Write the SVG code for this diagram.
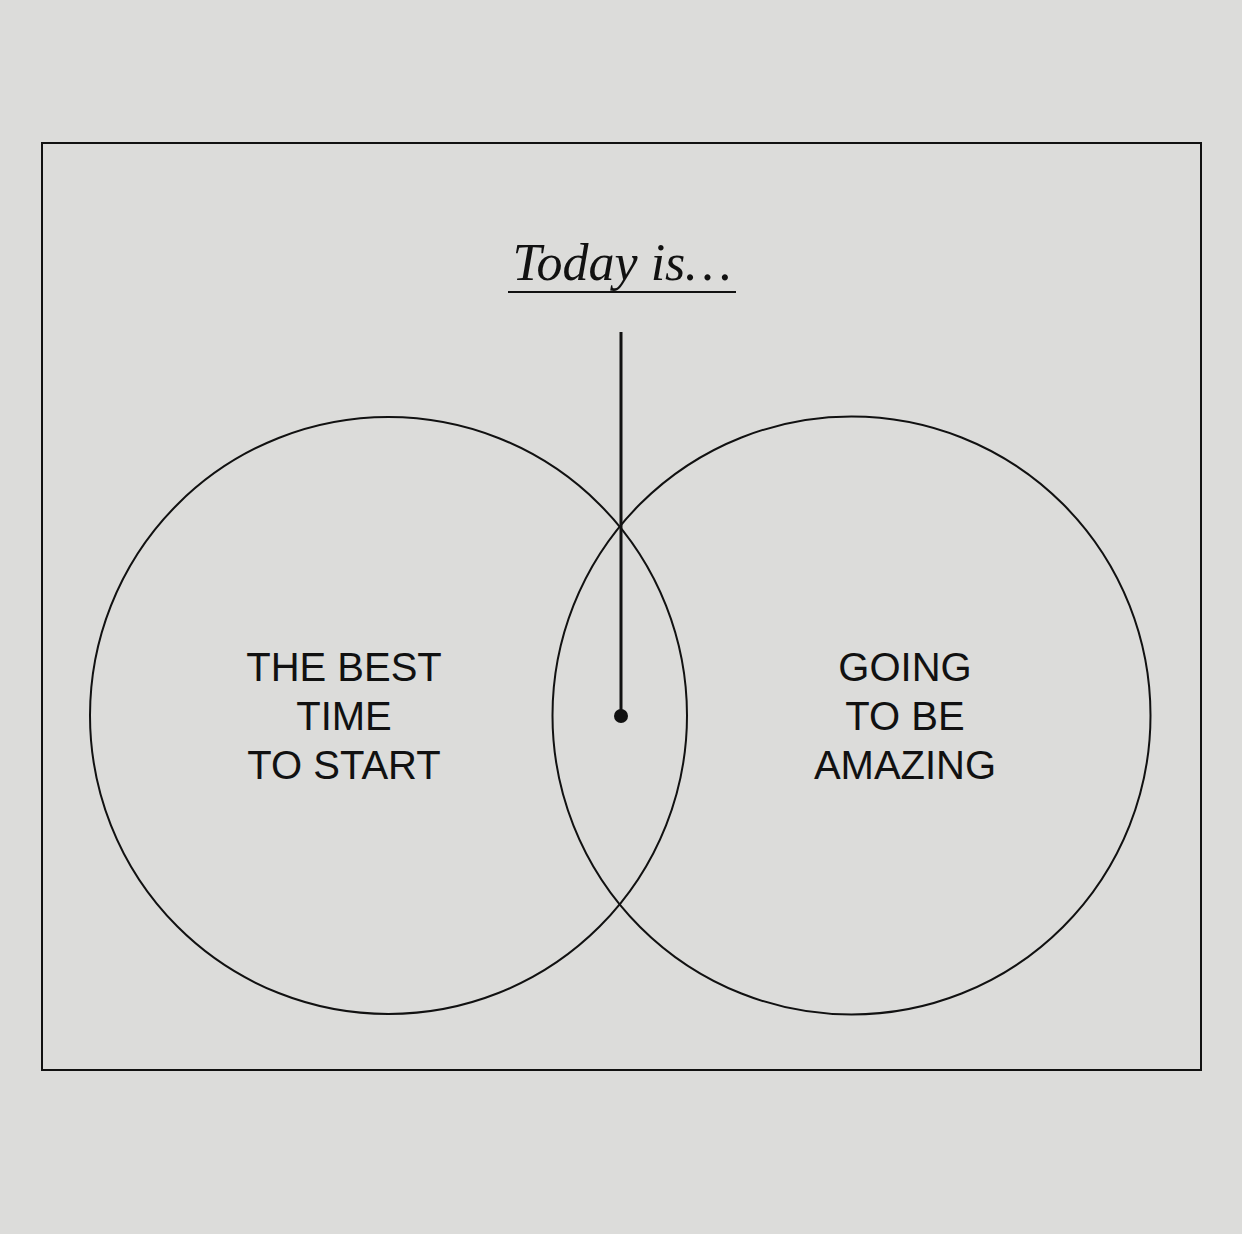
<svg xmlns="http://www.w3.org/2000/svg" width="1242" height="1234" viewBox="0 0 1242 1234">
<style>
.ln{fill:none;stroke:#111;stroke-width:2}
.lbl{font-family:"Liberation Sans",Arial,sans-serif;font-size:40px;fill:#111;text-anchor:middle}
.ttl{font-family:"Liberation Serif","Times New Roman",serif;font-style:italic;font-size:52px;fill:#111;text-anchor:middle}
</style>
<rect width="1242" height="1234" fill="#dcdcda"/>
<rect id="frame" class="ln" x="42" y="143" width="1159" height="927"/>
<g id="title">
<text class="ttl" x="622" y="280">Today is…</text>
<line class="ln" x1="508" y1="292" x2="736" y2="292"/>
</g>
<g id="left-circle">
<circle class="ln" cx="388.5" cy="715.5" r="298.5"/>
<text class="lbl" x="344" y="681">THE BEST</text>
<text class="lbl" x="344" y="730">TIME</text>
<text class="lbl" x="344" y="779">TO START</text>
</g>
<g id="right-circle">
<circle class="ln" cx="851.5" cy="715.5" r="299"/>
<text class="lbl" x="905" y="681">GOING</text>
<text class="lbl" x="905" y="730">TO BE</text>
<text class="lbl" x="905" y="779">AMAZING</text>
</g>
<g id="connectors">
<line x1="621" y1="332" x2="621" y2="715" stroke="#111" stroke-width="3"/>
<circle cx="621" cy="716" r="7" fill="#111"/>
</g>
</svg>
